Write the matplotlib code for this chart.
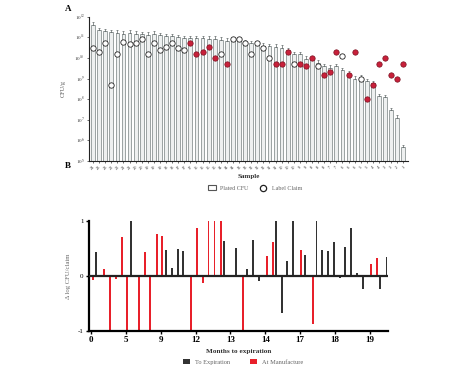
import numpy as np
import matplotlib
matplotlib.use('Agg')
import matplotlib.pyplot as plt
import matplotlib.lines as mlines
import matplotlib.patches as mpatches

plt.rcParams['font.family'] = ['Liberation Serif', 'DejaVu Serif']
plt.rcParams['mathtext.fontset'] = 'stix'

# ---- panel A data (log10 CFU/g) ----
sample_labels = ['24', '23', '23', '22', '22', '21', '21', '20', '20', '19', '19', '19', '18',
                 '18', '17', '17', '17', '16', '16', '15', '15', '14', '14', '14', '13', '13',
                 '12', '12', '12', '11', '11', '10', '10', '10', '9', '9', '8', '8', '8', '7',
                 '7', '6', '6', '6', '5', '5', '4', '4', '3', '3', '2', '1']
plated_log = [11.63, 11.35, 11.32, 11.26, 11.23, 11.19, 11.23, 11.18, 11.16, 11.13, 11.19, 11.10,
              11.06, 11.05, 11.02, 10.98, 10.98, 10.97, 10.97, 10.95, 10.94, 10.90, 10.85, 10.87,
              10.82, 10.77, 10.71, 10.68, 10.61, 10.58, 10.55, 10.50, 10.39, 10.18, 10.18, 9.97,
              9.94, 9.77, 9.61, 9.53, 9.61, 9.42, 9.26, 9.00, 9.05, 8.89, 8.77, 8.16, 8.10,
              7.48, 7.11, 5.66]
claim_log = [10.50, 10.31, 10.71, 8.69, 10.18, 10.77, 10.69, 10.71, 10.95, 10.18, 10.71, 10.39,
             10.55, 10.71, 10.47, 10.39, 10.71, 10.18, 10.31, 10.55, 10.02, 10.18, 9.69, 10.94,
             10.94, 10.71, 10.18, 10.71, 10.47, 10.02, 9.69, 9.69, 10.31, 9.69, 9.69, 9.61,
             10.02, 9.61, 9.18, 9.32, 10.31, 10.08, 9.18, 10.31, 9.00, 8.00, 8.69, 9.69, 10.02,
             9.18, 9.00, 9.69]
claim_flag = [0] * 16 + [1, 1, 1, 1, 1, 0, 1, 0, 0, 0, 0, 0, 0, 0, 1, 1, 1, 0, 1, 1, 1, 0, 1, 1,
                         1, 0, 1, 1, 0, 1, 1, 1, 1, 1, 1, 1]

# ---- panel B data (delta log CFU/claim) ----
month_ticks = ['0', '5', '9', '12', '13', '14', '17', '18', '19']
manuf_x = [0.04, 0.37, 0.55, 0.71, 0.88, 1.04, 1.38, 1.54, 1.70, 1.88, 2.04, 2.87, 3.05, 3.21,
           3.37, 3.54, 3.72, 4.37, 5.04, 5.21, 6.03, 6.36, 8.04, 8.20]
manuf_val = [-0.07, 0.12, -1.0, -0.05, 0.71, -1.0, -1.0, 0.44, -1.0, 0.77, 0.73, -1.0, 0.88,
             -0.12, 1.0, 1.0, 1.0, -1.0, 0.36, 0.61, 0.47, -0.87, 0.22, 0.33]
expir_x = [0.14, 1.14, 2.15, 2.32, 2.48, 2.64, 3.81, 4.15, 4.48, 4.65, 4.82, 5.31, 5.48, 5.63,
           5.80, 6.14, 6.47, 6.64, 6.81, 6.97, 7.14, 7.30, 7.46, 7.63, 7.80, 8.30, 8.48]
expir_val = [0.43, 1.0, 0.48, 0.15, 0.50, 0.45, 0.64, 0.51, 0.12, 0.65, -0.10, 1.0, -0.67, 0.27,
             1.0, 0.38, 1.0, 0.47, 0.45, 0.62, -0.04, 0.53, 0.87, 0.05, -0.23, -0.23, 0.35]

fig = plt.figure(figsize=(4.74, 3.76), dpi=100)

# ================= panel A =================
axA = fig.add_axes([0.188, 0.572, 0.673, 0.383])
x = np.arange(len(plated_log))
plated = 10 ** np.array(plated_log)
floor = 1e5
axA.bar(x, plated - floor, bottom=floor, width=0.62, color='#eef0f0',
        edgecolor='#8c9494', linewidth=0.6, zorder=2)
axA.errorbar(x, plated, yerr=[plated * 0.0, plated * 0.3], fmt='none',
             ecolor='#606868', elinewidth=0.5, capsize=0.8, capthick=0.5, zorder=2)
claim = 10 ** np.array(claim_log)
flag = np.array(claim_flag) == 1
axA.scatter(x[~flag], claim[~flag], s=15, facecolor='white', edgecolor='#222222',
            linewidth=0.6, zorder=4)
axA.scatter(x[flag], claim[flag], s=15, facecolor='#c8203a', edgecolor='#7a1020',
            linewidth=0.5, zorder=4)
axA.set_yscale('log')
axA.set_ylim(1e5, 1e12)
axA.set_xlim(-0.65, 51.8)
axA.set_yticks([10 ** k for k in range(5, 13)])
axA.set_yticklabels([r'$10^{%d}$' % k for k in range(5, 13)], fontsize=3.6)
axA.yaxis.set_minor_locator(matplotlib.ticker.NullLocator())
axA.set_xticks(x)
axA.set_xticklabels(sample_labels, rotation=45, fontsize=3.2, color='#444444')
axA.tick_params(axis='both', length=1.5, width=0.5, pad=1.5, colors='#333333')
for s in ['top', 'right']:
    axA.spines[s].set_visible(False)
for s in ['left', 'bottom']:
    axA.spines[s].set_linewidth(0.8)
    axA.spines[s].set_color('#222222')
axA.set_ylabel('CFU/g', fontsize=4.5, color='#555555', labelpad=6)
axA.set_xlabel('Sample', fontsize=5, fontweight='bold', color='#333333', labelpad=2)
fig.text(0.143, 0.977, 'A', fontsize=6.5, fontweight='bold', ha='center', va='center')

hA = [mpatches.FancyBboxPatch((0, 0), 1, 1, boxstyle='round,pad=0.1', facecolor='white',
                              edgecolor='#555555', linewidth=0.8, label='Plated CFU'),
      mlines.Line2D([], [], marker='o', linestyle='none', markersize=4.5,
                    markerfacecolor='white', markeredgecolor='#222222',
                    markeredgewidth=0.9, label='Label Claim')]
fig.legend(handles=hA, loc='center', bbox_to_anchor=(0.538, 0.5), ncol=2, frameon=False,
           fontsize=4.3, labelcolor='#666666', handlelength=1.3, handleheight=0.7,
           columnspacing=1.8, handletextpad=0.8)

# ================= panel B =================
axB = fig.add_axes([0.188, 0.12, 0.631, 0.292])
axB.bar(manuf_x, manuf_val, width=0.055, color='#e8202a', zorder=2)
axB.bar(expir_x, expir_val, width=0.055, color='#333333', zorder=2)
axB.axhline(0, color='#222222', linewidth=1.6, zorder=3)
axB.set_ylim(-1, 1)
axB.set_xlim(-0.06, 8.53)
axB.set_yticks([-1, 0, 1])
axB.set_yticklabels(['-1', '0', '1'], fontsize=5)
axB.set_xticks(range(len(month_ticks)))
axB.set_xticklabels(month_ticks, fontsize=6.5, fontweight='bold')
axB.tick_params(axis='both', length=2.5, width=1, pad=1.5)
for s in ['top', 'right']:
    axB.spines[s].set_visible(False)
for s in ['left', 'bottom']:
    axB.spines[s].set_linewidth(1.6)
axB.set_ylabel('\u0394 log CFU/claim', fontsize=4.8, color='#666666', labelpad=5,
               family=['Liberation Serif', 'DejaVu Sans'])
axB.set_xlabel('Months to expiration', fontsize=5.2, fontweight='bold', color='#333333',
               labelpad=3)
fig.text(0.143, 0.559, 'B', fontsize=6.5, fontweight='bold', ha='center', va='center')

hB = [mpatches.Patch(facecolor='#333333', label='To Expiration'),
      mpatches.Patch(facecolor='#e8202a', label='At Manufacture')]
fig.legend(handles=hB, loc='center', bbox_to_anchor=(0.513, 0.037), ncol=2, frameon=False,
           fontsize=4.6, labelcolor='#666666', handlelength=1.2, handleheight=0.6,
           columnspacing=3.0, handletextpad=0.8)

fig.savefig('out.png', dpi=100)
